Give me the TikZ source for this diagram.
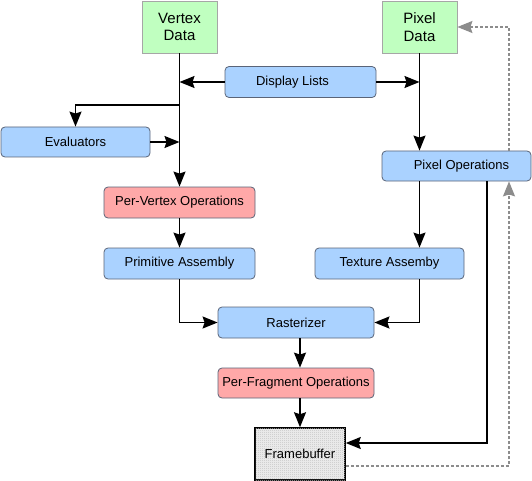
\documentclass[tikz,border=0pt]{standalone}
\usepackage{fontspec}
\setmainfont{Liberation Sans}
\usetikzlibrary{arrows.meta,patterns}
\definecolor{blueF}{RGB}{170,210,255}
\definecolor{redF}{RGB}{255,168,168}
\definecolor{greenF}{RGB}{192,255,192}
\definecolor{boxB}{RGB}{90,100,120}
\definecolor{dashC}{RGB}{140,140,140}
\pgfdeclarepatternformonly{fbchk}{\pgfpointorigin}{\pgfpoint{2pt}{2pt}}{\pgfpoint{2pt}{2pt}}{%
  \pgfpathrectangle{\pgfpointorigin}{\pgfpoint{1pt}{1pt}}%
  \pgfpathrectangle{\pgfpoint{1pt}{1pt}}{\pgfpoint{1pt}{1pt}}%
  \pgfusepath{fill}}
\tikzset{
  base/.style={inner sep=0pt, align=center, font=\fontsize{13}{15}\selectfont},
  bluebox/.style={base, draw=boxB, line width=0.8pt, fill=blueF, rounded corners=4pt},
  redbox/.style={base, draw=boxB, line width=0.8pt, fill=redF, rounded corners=4pt},
  greenbox/.style={base, draw=gray!70, line width=0.8pt, fill=greenF, font=\fontsize{15}{17.5}\selectfont},
  fbbox/.style={base, draw=black, line width=1.5pt, fill=gray!12, postaction={pattern=fbchk, pattern color=gray!50}},
  arr/.style={line width=1.5pt, -{Stealth[length=15pt,width=12pt,inset=2pt]}},
  dsh/.style={line width=1.5pt, dashC, dash pattern=on 3pt off 2pt},
  darr/.style={dsh, -{Stealth[length=15pt,width=12pt,inset=2pt,fill=dashC]}}
}
\begin{document}
\begin{tikzpicture}[x=1pt,y=-1pt]
\useasboundingbox (0,0) rectangle (532,481);
\node[greenbox, minimum width=75pt, minimum height=52pt] (vd) at (179.5,27) {Vertex\\Data};
\node[greenbox, minimum width=75pt, minimum height=52pt] (pd) at (419.5,27) {Pixel\\Data};
\node[bluebox, minimum width=151pt, minimum height=31pt] (dl) at (300.5,82) {Display Lists\hspace*{16pt}};
\node[bluebox, minimum width=149pt, minimum height=30pt] (ev) at (75.5,142) {Evaluators};
\node[redbox, minimum width=151pt, minimum height=31pt] (pv) at (179.5,202.5) {Per-Vertex Operations};
\node[bluebox, minimum width=151pt, minimum height=31pt] (pa) at (179.5,263.5) {Primitive Assembly};
\node[bluebox, minimum width=149pt, minimum height=30pt] (po) at (456.5,166) {\hspace*{10pt}Pixel Operations};
\node[bluebox, minimum width=149pt, minimum height=31pt] (ta) at (389.5,263.5) {Texture Assemby};
\node[bluebox, minimum width=156pt, minimum height=31pt] (ra) at (296,322.5) {Rasterizer};
\node[redbox, minimum width=156pt, minimum height=30pt] (pf) at (296,383) {Per-Fragment Operations};
\node[fbbox, minimum width=90pt, minimum height=52pt] (fb) at (300,454) {Framebuffer};
\coordinate (ej) at (179.5,105);
\coordinate (pj) at (487,181);
\coordinate (dj) at (509,181);
% vertex column
\draw[arr] (vd.south) -- (pv.north);
\draw[arr] (dl.west) -- (dl.west -| vd.south);
\draw[arr] (ej) -| (ev.north);
\draw[arr] (ev.east) -- (ev.east -| vd.south);
\draw[arr] (pv.south) -- (pa.north);
\draw[arr] (pa.south) |- (ra.west);
% pixel column
\draw[arr] (pd.south) -- (pd.south |- po.north);
\draw[arr] (dl.east) -- (dl.east -| pd.south);
\draw[arr] (po.south -| pd.south) -- (ta.north -| pd.south);
\draw[arr] (ta.south -| pd.south) |- (ra.east);
% bottom
\draw[arr] (ra.south -| fb.north) -- (pf.north -| fb.north);
\draw[arr] (pf.south -| fb.north) -- (fb.north);
\draw[arr] (po.south -| pj) |- ([yshift=11pt]fb.east);
% feedback dashed
\draw[darr] ([yshift=-12pt]fb.east) -| (po.south -| dj);
\draw[darr] (po.north -| dj) |- (pd.east);
\end{tikzpicture}
\end{document}
